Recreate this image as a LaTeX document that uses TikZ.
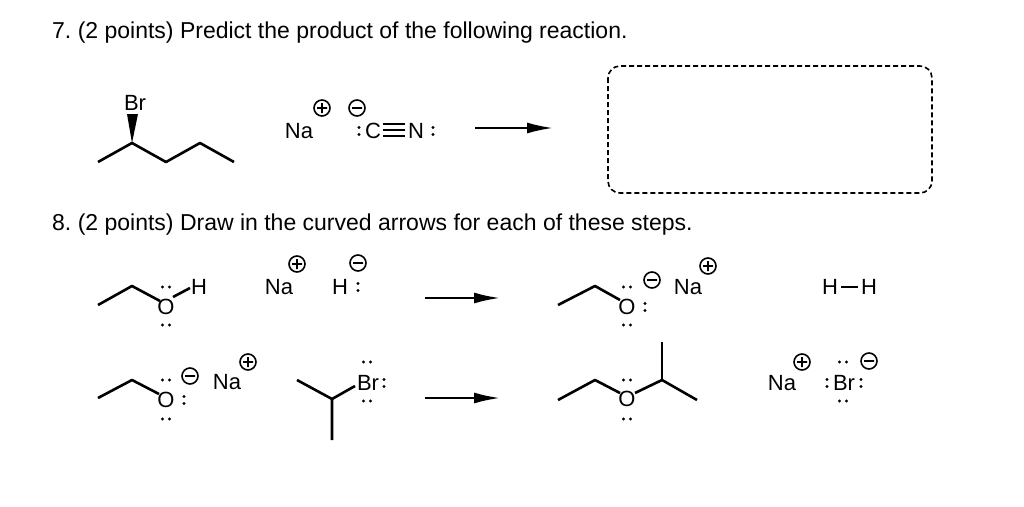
\documentclass[tikz,border=0pt]{standalone}
\usepackage{fontspec}
\setmainfont{Liberation Sans}
\usetikzlibrary{arrows.meta}
\tikzset{
  lbl/.style={inner sep=0pt,font=\fontsize{22}{26}\selectfont},
  ttl/.style={inner sep=0pt,anchor=west,font=\fontsize{23}{27}\selectfont},
  bond/.style={line width=2.6pt,line join=round},
  rxn/.style={line width=2.2pt,-{Latex[length=26pt,width=11pt]}},
}
\newcommand{\hpair}[2]{\fill (#1-3.5,#2) circle (1.6) (#1+3.5,#2) circle (1.6);}
\newcommand{\vpair}[2]{\fill (#1,#2-3.5) circle (1.6) (#1,#2+3.5) circle (1.6);}
\newcommand{\plusc}[2]{\draw[line width=1.6pt] (#1,#2) circle (8) (#1-5,#2)--(#1+5,#2) (#1,#2-5)--(#1,#2+5);}
\newcommand{\minusc}[2]{\draw[line width=1.6pt] (#1,#2) circle (8) (#1-5,#2)--(#1+5,#2);}
\begin{document}
\begin{tikzpicture}[x=1pt,y=-1pt]
\useasboundingbox (0,0) rectangle (1024,506);
\node[ttl] (t7) at (52,33) {7.\ (2 points) Predict the product of the following reaction.};
\node[ttl] (t8) at (52,225) {8.\ (2 points) Draw in the curved arrows for each of these steps.};
% problem 7
\node[lbl] (br1) at (135,103) {Br};
\draw[bond] (98,162)--(132,143)--(166,162)--(200,143)--(234,162);
\fill (132,143)--(127,114)--(138,114)--cycle;
\node[lbl] (na1) at (299,131) {Na};
\plusc{322}{108}
\minusc{357}{108}
\node[lbl] (c1) at (373,131) {C};
\node[lbl] (n1) at (416,131) {N};
\draw[line width=1.6pt] (383,124)--(405,124) (383,130)--(405,130) (383,136)--(405,136);
\vpair{359}{131}
\vpair{433}{131}
\draw[rxn] (475,128)--(553,128);
\draw[line width=1.6pt,dash pattern=on 5pt off 3pt,rounded corners=12pt] (608,66) rectangle (932,193);
% row 1
\draw[bond] (98,305)--(132,286)--(160,301);
\node[lbl] (o1) at (166,307) {O};
\node[lbl] (h1) at (199,287) {H};
\draw[bond] (173,297)--(190,288);
\hpair{166}{287}\hpair{166}{325}
\node[lbl] (na2) at (279,287) {Na};
\plusc{297}{264}
\node[lbl] (h2) at (340,287) {H};
\minusc{358}{263}
\vpair{358}{287}
\draw[rxn] (425,298)--(500,298);
\draw[bond] (558,305)--(595,286)--(620,300);
\node[lbl] (o2) at (627,307) {O};
\hpair{627}{287}\hpair{627}{325}\vpair{645}{307}
\minusc{652}{280}
\node[lbl] (na3) at (688,287) {Na};
\plusc{708}{266}
\node[lbl] (h3) at (830,287) {H};
\node[lbl] (h4) at (869,287) {H};
\draw[line width=2.6pt] ([xshift=3pt]h3.east) -- ([xshift=-3pt]h4.west);
% row 2
\draw[bond] (98,398)--(132,380)--(159,394);
\node[lbl] (o3) at (166,400) {O};
\hpair{166}{380}\hpair{166}{419}\vpair{184}{400}
\minusc{190}{376}
\node[lbl] (na4) at (227,382) {Na};
\plusc{248}{362}
\draw[bond] (297,380)--(332,399)--(332,440);
\draw[bond] (332,399)--(355,386);
\node[lbl] (br2) at (368,383) {Br};
\hpair{367}{362}\hpair{367}{401}\vpair{384}{383}
\draw[rxn] (425,398)--(500,398);
\draw[bond] (558,400)--(595,380)--(620,393);
\node[lbl] (o4) at (627,399) {O};
\hpair{627}{380}\hpair{627}{419}
\draw[bond] (635,393)--(662,380)--(697,400);
\draw[bond] (662,380)--(662,342);
\node[lbl] (na5) at (782,383) {Na};
\plusc{802}{362}
\node[lbl] (br3) at (844,383) {Br};
\vpair{827}{383}\vpair{861}{383}
\hpair{843}{362}\hpair{843}{401}
\minusc{869}{361}
\end{tikzpicture}
\end{document}
